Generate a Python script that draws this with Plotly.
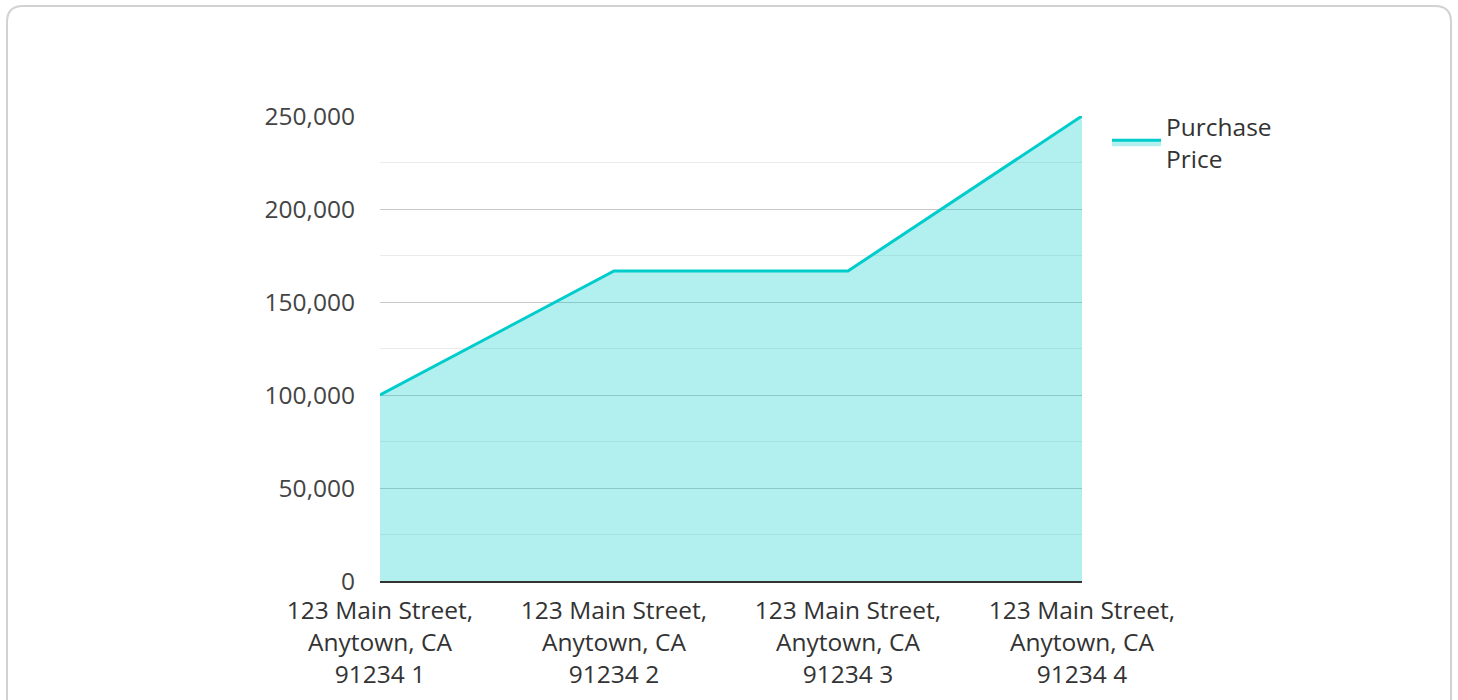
import plotly.graph_objects as go

categories = [
    "123 Main Street,<br>Anytown, CA<br>91234 1",
    "123 Main Street,<br>Anytown, CA<br>91234 2",
    "123 Main Street,<br>Anytown, CA<br>91234 3",
    "123 Main Street,<br>Anytown, CA<br>91234 4",
]
purchase_price = [100000, 166667, 166667, 250000]
series_name = "Purchase<br>Price"

W, H = 1458, 700
L, R, T, B = 380, 1082, 116, 581
FS = 24.5


def px(x):
    return (x - L) / (R - L)


def py(y):
    return (B - y) / (B - T)


fig = go.Figure()
fig.add_trace(go.Scatter(
    x=categories, y=purchase_price, name=series_name, mode="lines",
    line=dict(color="#00cccc", width=3), fill="tozeroy",
    fillcolor="rgba(0,204,204,0.3)", showlegend=True,
))

# card border with rounded top corners
x0, x1, y0, y1, r = 7, 1451, 6, 740, 16
path = (f"M {px(x0)},{py(y1)} L {px(x0)},{py(y0 + r)} "
        f"Q {px(x0)},{py(y0)} {px(x0 + r)},{py(y0)} "
        f"L {px(x1 - r)},{py(y0)} Q {px(x1)},{py(y0)} {px(x1)},{py(y0 + r)} "
        f"L {px(x1)},{py(y1)}")
fig.add_shape(type="path", path=path, xref="paper", yref="paper",
              line=dict(color="#d2d2d2", width=2), layer="below")

fig.update_layout(
    width=W, height=H,
    margin=dict(l=L, r=W - R, t=T, b=H - B),
    paper_bgcolor="white", plot_bgcolor="white",
    font=dict(family="Open Sans", size=FS, color="#444"),
    showlegend=True,
    legend=dict(x=px(1107), y=py(104), xanchor="left", yanchor="top",
                itemwidth=49,
                font=dict(size=FS, color="#333"), bgcolor="rgba(0,0,0,0)"),
    xaxis=dict(type="category", range=[0, 3], showgrid=False, zeroline=False,
               showline=True, linecolor="#333", linewidth=2,
               ticklabelstandoff=7, automargin=False,
               tickfont=dict(size=FS, color="#333"), fixedrange=True),
    yaxis=dict(range=[0, 250000], dtick=50000, tickformat=",", showgrid=True,
               gridcolor="#c8c8c8", gridwidth=1, zeroline=False, showline=False,
               ticklabelstandoff=24, automargin=False,
               tickfont=dict(size=FS, color="#444"),
               minor=dict(dtick=25000, showgrid=True, gridcolor="#ebebeb", gridwidth=1)),
)

fig.write_html("out.html", config={"displayModeBar": False},
               post_script="document.body.style.margin='0';")
